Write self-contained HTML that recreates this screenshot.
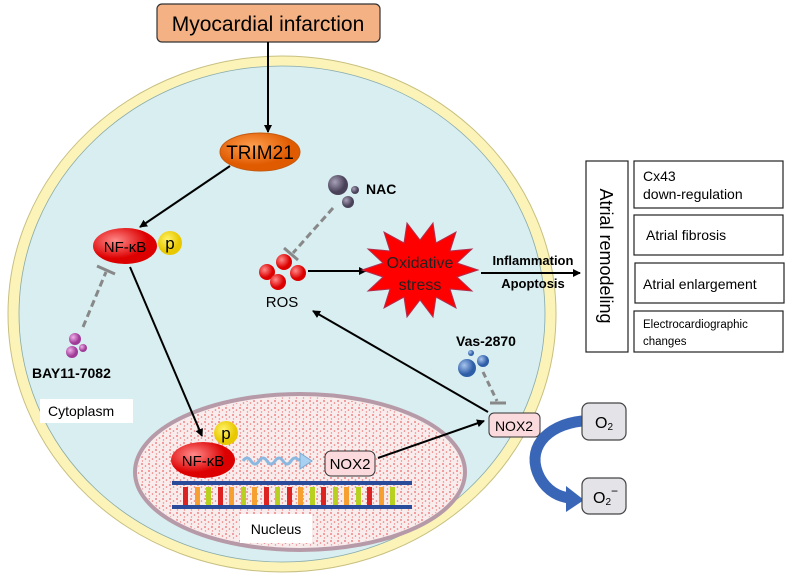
<!DOCTYPE html>
<html><head><meta charset="utf-8"><style>
body{margin:0;background:#fff;}
svg{display:block;font-family:"Liberation Sans",sans-serif;}
</style></head><body>
<svg width="789" height="578" viewBox="0 0 789 578" xmlns="http://www.w3.org/2000/svg">
<defs>
<marker id="ah" markerWidth="8" markerHeight="8" refX="7" refY="4" orient="auto" markerUnits="userSpaceOnUse"><path d="M0,0 L8,4 L0,8 z" fill="#000"/></marker>
<pattern id="dots" width="7" height="7" patternUnits="userSpaceOnUse"><circle cx="2" cy="2" r="0.9" fill="#e66"/><circle cx="5.5" cy="4" r="0.8" fill="#e77"/><circle cx="2.5" cy="6" r="0.7" fill="#e88"/></pattern>
<radialGradient id="rg" cx="35%" cy="35%"><stop offset="0" stop-color="#ff8a8a"/><stop offset="1" stop-color="#d00"/></radialGradient>
<radialGradient id="og" cx="40%" cy="35%"><stop offset="0" stop-color="#ffa050"/><stop offset="1" stop-color="#e05a00"/></radialGradient>
<radialGradient id="yg" cx="40%" cy="35%"><stop offset="0" stop-color="#fff36a"/><stop offset="1" stop-color="#e8c800"/></radialGradient>
<radialGradient id="bg" cx="35%" cy="35%"><stop offset="0" stop-color="#a8c4ee"/><stop offset="1" stop-color="#2e5ea8"/></radialGradient>
<radialGradient id="pg" cx="35%" cy="35%"><stop offset="0" stop-color="#f0b0e8"/><stop offset="1" stop-color="#a03a98"/></radialGradient>
<radialGradient id="gg" cx="35%" cy="35%"><stop offset="0" stop-color="#a8a0b8"/><stop offset="1" stop-color="#4a4258"/></radialGradient>
</defs>
<ellipse cx="282" cy="314" rx="274" ry="258" fill="#fbf3b8" stroke="#c8c080" stroke-width="1"/>
<ellipse cx="282" cy="314" rx="263" ry="248" fill="#d8eef1" stroke="#8aa" stroke-width="0.8"/>
<ellipse cx="300" cy="472" rx="165" ry="78" fill="#f8ecec" stroke="#b79aa8" stroke-width="4"/>
<ellipse cx="300" cy="472" rx="162" ry="75" fill="url(#dots)"/>
<rect x="157" y="4" width="223" height="38" rx="5" fill="#f4b183" stroke="#333" stroke-width="1.2"/>
<text x="268" y="31" font-size="21" text-anchor="middle">Myocardial infarction</text>
<line x1="268" y1="42" x2="268" y2="132" stroke="#000" stroke-width="2" marker-end="url(#ah)"/>
<ellipse cx="260" cy="152" rx="40" ry="19" fill="url(#og)" stroke="#c55a11"/>
<text x="260" y="159" font-size="19" text-anchor="middle">TRIM21</text>
<line x1="230" y1="166" x2="140" y2="227" stroke="#000" stroke-width="2" marker-end="url(#ah)"/>
<ellipse cx="125" cy="246" rx="32" ry="18" fill="url(#rg)"/>
<text x="125" y="252" font-size="15" text-anchor="middle">NF-κB</text>
<circle cx="170" cy="243" r="12" fill="url(#yg)"/>
<text x="170" y="249" font-size="17" text-anchor="middle">p</text>
<line x1="130" y1="267" x2="202" y2="436" stroke="#000" stroke-width="2" marker-end="url(#ah)"/>
<line x1="83" y1="327" x2="106" y2="272" stroke="#888" stroke-width="3" stroke-dasharray="7,4"/>
<line x1="97" y1="266" x2="115" y2="274" stroke="#888" stroke-width="3"/>
<circle cx="75" cy="339" r="6" fill="url(#pg)"/><circle cx="72" cy="352" r="6" fill="url(#pg)"/><circle cx="83" cy="348" r="4" fill="url(#pg)"/>
<text x="32" y="378" font-size="14" font-weight="bold">BAY11-7082</text>
<rect x="40" y="399" width="93" height="24" fill="#fff"/>
<text x="48" y="416" font-size="14">Cytoplasm</text>
<line x1="333" y1="208" x2="293" y2="253" stroke="#888" stroke-width="3" stroke-dasharray="7,4"/>
<line x1="284" y1="248" x2="298" y2="260" stroke="#888" stroke-width="3"/>
<circle cx="338" cy="185" r="10" fill="url(#gg)"/><circle cx="355" cy="190" r="4" fill="url(#gg)"/><circle cx="348" cy="202" r="6" fill="url(#gg)"/>
<text x="366" y="194" font-size="14" font-weight="bold">NAC</text>
<circle cx="267" cy="272" r="8" fill="url(#rg)"/><circle cx="284" cy="262" r="8" fill="url(#rg)"/><circle cx="298" cy="273" r="8" fill="url(#rg)"/><circle cx="278" cy="282" r="8" fill="url(#rg)"/>
<text x="282" y="307" font-size="15" text-anchor="middle">ROS</text>
<line x1="308" y1="271" x2="366" y2="271" stroke="#000" stroke-width="2" marker-end="url(#ah)"/>
<polygon points="478,270 457,263 472,249 450,251 456,232 436,243 433,223 420,240 407,223 404,243 384,232 390,251 368,249 383,263 362,270 383,277 368,291 390,289 384,308 404,297 407,317 420,300 433,317 436,297 456,308 450,289 472,291 457,277" fill="#f00" stroke="#b03050" stroke-width="1"/>
<text x="420" y="268" font-size="16" text-anchor="middle" fill="#222">Oxidative</text>
<text x="420" y="290" font-size="16" text-anchor="middle" fill="#222">stress</text>
<line x1="481" y1="273" x2="580" y2="273" stroke="#000" stroke-width="2" marker-end="url(#ah)"/>
<text x="533" y="265" font-size="13" font-weight="bold" text-anchor="middle">Inflammation</text>
<text x="533" y="288" font-size="13" font-weight="bold" text-anchor="middle">Apoptosis</text>
<rect x="586" y="161" width="42" height="191" fill="#fff" stroke="#222" stroke-width="1.2"/>
<text transform="translate(600,256) rotate(90)" font-size="18" text-anchor="middle">Atrial remodeling</text>
<rect x="634" y="161" width="149" height="47" fill="#fff" stroke="#222" stroke-width="1.2"/>
<text x="643" y="181" font-size="14">Cx43</text><text x="643" y="199" font-size="14">down-regulation</text>
<rect x="634" y="215" width="149" height="40" fill="#fff" stroke="#222" stroke-width="1.2"/>
<text x="646" y="240" font-size="14">Atrial fibrosis</text>
<rect x="635" y="263" width="149" height="40" fill="#fff" stroke="#222" stroke-width="1.2"/>
<text x="643" y="289" font-size="14">Atrial enlargement</text>
<rect x="634" y="311" width="149" height="41" fill="#fff" stroke="#222" stroke-width="1.2"/>
<text x="643" y="328" font-size="11.5">Electrocardiographic</text><text x="643" y="345" font-size="11.5">changes</text>
<text x="456" y="346" font-size="14" font-weight="bold">Vas-2870</text>
<circle cx="467" cy="368" r="9" fill="url(#bg)"/><circle cx="483" cy="361" r="6" fill="url(#bg)"/><circle cx="471" cy="353" r="3" fill="url(#bg)"/>
<line x1="483" y1="372" x2="497" y2="401" stroke="#888" stroke-width="3" stroke-dasharray="6,4"/>
<line x1="490" y1="403" x2="506" y2="403" stroke="#888" stroke-width="3"/>
<line x1="488" y1="412" x2="313" y2="311" stroke="#000" stroke-width="2" marker-end="url(#ah)"/>
<rect x="489" y="413" width="51" height="24" rx="5" fill="#fadadd" stroke="#333"/>
<text x="514" y="431" font-size="14" text-anchor="middle">NOX2</text>
<path d="M582,421 C545,425 525,450 540,478 C548,492 560,497 570,498" fill="none" stroke="#3a66b8" stroke-width="11"/>
<polygon points="566,486 584,500 566,512" fill="#3a66b8"/>
<rect x="582" y="403" width="44" height="37" rx="7" fill="#e4e4e8" stroke="#444" stroke-width="1.2"/>
<text x="595" y="428" font-size="16">O<tspan font-size="10" dy="2">2</tspan></text>
<rect x="582" y="478" width="44" height="36" rx="7" fill="#e4e4e8" stroke="#444" stroke-width="1.2"/>
<text x="593" y="503" font-size="16">O<tspan font-size="10" dy="2">2</tspan><tspan font-size="12" dy="-10">−</tspan></text>
<ellipse cx="203" cy="460" rx="32" ry="18" fill="url(#rg)"/>
<text x="203" y="466" font-size="15" text-anchor="middle">NF-κB</text>
<circle cx="226" cy="433" r="12" fill="url(#yg)"/>
<text x="226" y="439" font-size="17" text-anchor="middle">p</text>
<path d="M243,461 q4,-6 8,0 t8,0 t8,0 t8,0 t8,0 t8,0 t8,0" fill="none" stroke="#8ab8e0" stroke-width="3"/>
<polygon points="300,453 312,461 300,469" fill="#a8d0f0" stroke="#7aa8d0"/>
<rect x="325" y="451" width="50" height="25" rx="6" fill="#fadadd" stroke="#333"/>
<text x="350" y="469" font-size="15" text-anchor="middle">NOX2</text>
<line x1="378" y1="458" x2="484" y2="421" stroke="#000" stroke-width="2" marker-end="url(#ah)"/>
<g>
<rect x="183" y="487" width="5" height="18" fill="#d22"/><rect x="195" y="487" width="5" height="18" fill="#f5a030"/><rect x="206" y="487" width="5" height="18" fill="#b8d020"/><rect x="218" y="487" width="5" height="18" fill="#d22"/><rect x="229" y="487" width="5" height="18" fill="#f5a030"/><rect x="241" y="487" width="5" height="18" fill="#b8d020"/><rect x="252" y="487" width="5" height="18" fill="#f5a030"/><rect x="264" y="487" width="5" height="18" fill="#d22"/><rect x="275" y="487" width="5" height="18" fill="#b8d020"/><rect x="287" y="487" width="5" height="18" fill="#d22"/><rect x="298" y="487" width="5" height="18" fill="#f5a030"/><rect x="310" y="487" width="5" height="18" fill="#b8d020"/><rect x="321" y="487" width="5" height="18" fill="#d22"/><rect x="333" y="487" width="5" height="18" fill="#b8d020"/><rect x="344" y="487" width="5" height="18" fill="#f5a030"/><rect x="356" y="487" width="5" height="18" fill="#b8d020"/><rect x="367" y="487" width="5" height="18" fill="#d22"/><rect x="379" y="487" width="5" height="18" fill="#f5a030"/><rect x="390" y="487" width="5" height="18" fill="#b8d020"/>
</g>
<rect x="172" y="481" width="240" height="4" fill="#2a4a9a"/>
<rect x="172" y="505" width="240" height="4" fill="#2a4a9a"/>
<rect x="240" y="514" width="72" height="29" fill="#fff"/>
<text x="276" y="534" font-size="14" text-anchor="middle">Nucleus</text>
</svg>
</body></html>
